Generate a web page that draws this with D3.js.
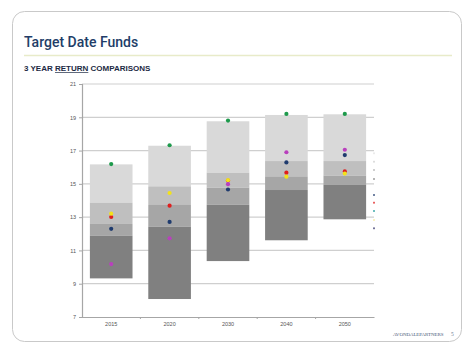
<!DOCTYPE html>
<html>
<head>
<meta charset="utf-8">
<script src="https://cdn.jsdelivr.net/npm/d3@7"></script>
<style>
  html, body { margin: 0; padding: 0; background: #ffffff; }
  svg { display: block; }
</style>
</head>
<body>
<script>
// ---- data ----
const categories = ["2015", "2020", "2030", "2040", "2050"];
const minVals    = [9.32, 8.08, 10.36, 11.61, 12.87];
const q1Vals     = [11.88, 12.43, 13.75, 14.63, 14.95];
const medVals    = [12.59, 13.73, 14.77, 15.45, 15.49];
const q3Vals     = [13.87, 14.85, 15.67, 16.37, 16.37];
const maxVals    = [16.17, 17.29, 18.76, 19.14, 19.18];

const navyFund    = [12.30, 12.71, 14.66, 16.29, 16.73];
const redFund     = [13.01, 13.69, 15.20, 15.67, 15.75];
const greenFund   = [16.19, 17.32, 18.80, 19.20, 19.20];
const yellowFund  = [13.21, 14.45, 15.22, 15.43, 15.62];
const magentaFund = [10.18, 11.73, 14.98, 16.90, 17.05];

const yTicks = [7, 9, 11, 13, 15, 17, 19, 21];

// ---- layout ----
const W = 474, H = 355;
const svg = d3.select("body").append("svg").attr("width", W).attr("height", H);

// slide frame
svg.append("rect")
  .attr("x", 12.5).attr("y", 11.5).attr("width", 449).attr("height", 330)
  .attr("rx", 12).attr("ry", 12)
  .attr("fill", "none").attr("stroke", "#c9c9c9").attr("stroke-width", 1);

// title
svg.append("text")
  .attr("x", 24).attr("y", 47)
  .attr("font-family", "Roboto, Liberation Sans, Arial, sans-serif")
  .attr("font-size", 14).attr("font-weight", 500).attr("fill", "#223d68")
  .text("Target Date Funds");

svg.append("line")
  .attr("x1", 24).attr("x2", 452).attr("y1", 55.5).attr("y2", 55.5)
  .attr("stroke", "#e8ebc9").attr("stroke-width", 1.5);

// subtitle with underlined word
const sub = svg.append("text")
  .attr("x", 24).attr("y", 71)
  .attr("font-family", "Liberation Sans, Arial, sans-serif")
  .attr("font-size", 8).attr("font-weight", "bold").attr("fill", "#1c2a44");
sub.append("tspan").text("3 YEAR ");
sub.append("tspan").text("RETURN");
sub.append("tspan").text(" COMPARISONS");
{
  const pre = sub.node().getSubStringLength(0, 7);
  const len = sub.node().getSubStringLength(7, 6);
  svg.append("line")
    .attr("x1", 24 + pre).attr("x2", 24 + pre + len)
    .attr("y1", 72.5).attr("y2", 72.5)
    .attr("stroke", "#1c2a44").attr("stroke-width", 0.7);
}

// scales
const plotL = 82, plotR = 374, plotT = 84, plotB = 317;
const x = d3.scaleBand().domain(categories).range([plotL, plotR])
  .paddingInner(0.27).paddingOuter(0.135);
const y = d3.scaleLinear().domain([7, 21]).range([plotB, plotT]);

// gridlines
svg.append("g").selectAll("line").data(yTicks.filter(d => d > 7)).join("line")
  .attr("x1", plotL).attr("x2", plotR)
  .attr("y1", d => y(d)).attr("y2", d => y(d))
  .attr("stroke", "#cfcfcf").attr("stroke-width", 1.2);

// stacked quartile bars
const segs = [
  { lo: q3Vals,  hi: maxVals, color: "#d9d9d9" },
  { lo: medVals, hi: q3Vals,  color: "#bfbfbf" },
  { lo: q1Vals,  hi: medVals, color: "#a6a6a6" },
  { lo: minVals, hi: q1Vals,  color: "#808080" }
];
const barG = svg.append("g");
segs.forEach(s => {
  barG.append("g").selectAll("rect").data(categories).join("rect")
    .attr("x", d => x(d))
    .attr("width", x.bandwidth())
    .attr("y", (d, i) => y(s.hi[i]))
    .attr("height", (d, i) => y(s.lo[i]) - y(s.hi[i]))
    .attr("fill", s.color);
});

// y axis
const yAxis = d3.axisLeft(y).tickValues(yTicks).tickSize(3).tickPadding(3);
const ya = svg.append("g").attr("transform", `translate(${plotL},0)`).call(yAxis);
ya.select(".domain").attr("stroke", "#a6a6a6").attr("stroke-width", 1.2);
ya.selectAll(".tick line").attr("stroke", "#a6a6a6");
ya.selectAll("text").attr("font-size", 5.5).attr("fill", "#555")
  .attr("font-family", "Liberation Sans, Arial, sans-serif");

// x axis
const xAxis = d3.axisBottom(x).tickSize(0).tickPadding(5);
const xa = svg.append("g").attr("transform", `translate(0,${plotB})`).call(xAxis);
xa.select(".domain").attr("stroke", "#a6a6a6").attr("stroke-width", 1.2);
xa.selectAll("text").attr("font-size", 5.5).attr("fill", "#555")
  .attr("font-family", "Liberation Sans, Arial, sans-serif");
// category boundary ticks
xa.append("g").selectAll("line").data(categories.slice(1)).join("line")
  .attr("x1", d => x(d) - x.step() * x.paddingInner() / 2)
  .attr("x2", d => x(d) - x.step() * x.paddingInner() / 2)
  .attr("y1", 0).attr("y2", 2)
  .attr("stroke", "#a6a6a6");

// fund dots
const funds = [
  { vals: navyFund,    color: "#1f3b6e" },
  { vals: redFund,     color: "#e01e1e" },
  { vals: greenFund,   color: "#1e9a4c" },
  { vals: yellowFund,  color: "#f2e21a" },
  { vals: magentaFund, color: "#b940bd" }
];
funds.forEach(f => {
  svg.append("g").selectAll("circle").data(categories).join("circle")
    .attr("cx", d => x(d) + x.bandwidth() / 2)
    .attr("cy", (d, i) => y(f.vals[i]))
    .attr("r", 2.1)
    .attr("fill", f.color);
});

// clipped legend markers
const legendColors = ["#e3e3e3", "#cfcfcf", "#b3b3b3", "#8a8a8a",
                      "#1f3b6e", "#e01e1e", "#1e9a9a", "#f7eaa0", "#3a3a6e"];
const legendY = [153.3, 161.7, 170, 179, 195, 202.7, 211, 220, 228.3];
svg.append("g").selectAll("rect").data(legendColors).join("rect")
  .attr("x", 373.3).attr("width", 1.4)
  .attr("y", (d, i) => legendY[i] - 0.9).attr("height", 1.8)
  .attr("fill", d => d);

// footer
svg.append("text")
  .attr("x", 393).attr("y", 336)
  .attr("font-family", "Liberation Serif, Times New Roman, serif")
  .attr("font-size", 5).attr("fill", "#4a5a78")
  .attr("letter-spacing", -0.1)
  .text("AVONDALEPARTNERS");
svg.append("text")
  .attr("x", 451).attr("y", 336)
  .attr("font-family", "Liberation Serif, Times New Roman, serif")
  .attr("font-size", 5.5).attr("fill", "#6a7a90")
  .text("5");
</script>
</body>
</html>
